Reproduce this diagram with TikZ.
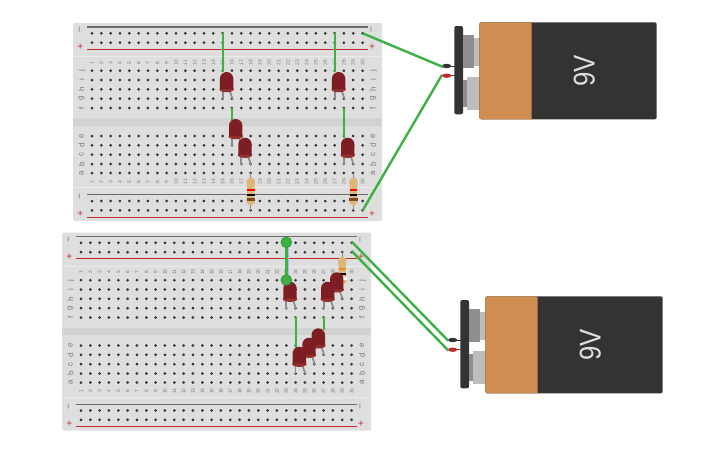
\documentclass[tikz,border=0pt]{standalone}
\usepackage{fontspec}
\setmainfont{Liberation Sans}

\definecolor{bbgray}{HTML}{DEDEDE}
\definecolor{bbstrip}{HTML}{D2D2D2}
\definecolor{bbline}{HTML}{EAEAEA}
\definecolor{hole}{HTML}{333333}
\definecolor{lbl}{HTML}{7A7A7A}
\definecolor{railred}{HTML}{C02A2A}
\definecolor{railblk}{HTML}{6A6A6A}
\definecolor{wiregreen}{HTML}{3FB044}
\definecolor{dotgreen}{HTML}{2F9E38}
\definecolor{ledred}{HTML}{7C1E22}
\definecolor{ledrim}{HTML}{93302F}
\definecolor{leg}{HTML}{8C8C8C}
\definecolor{restan}{HTML}{DDB67C}
\definecolor{batdark}{HTML}{333333}
\definecolor{batorange}{HTML}{D08D52}
\definecolor{batlight}{HTML}{BDBDBD}
\definecolor{batmid}{HTML}{8E8E8E}
\definecolor{battext}{HTML}{DEDEDE}
\definecolor{bandbrown}{HTML}{7A4A1E}
\definecolor{bandorange}{HTML}{F08A1C}

\tikzset{
	wire/.style={draw=wiregreen, line width=2.4pt},
	lbltxt/.style={text=lbl, font=\fontsize{5}{5}\selectfont, inner sep=0pt, rotate=90},
	rowtxt/.style={text=lbl, font=\fontsize{8}{8}\selectfont, inner sep=0pt, rotate=90},
	railtxt/.style={text=lbl, font=\fontsize{10}{10}\selectfont, inner sep=0pt, rotate=90},
	pics/led/.style={code={
		\draw[leg, line width=1.7pt] (-3.8,19) -- (-3.8,27);
		\draw[leg, line width=1.7pt] (3.2,19) -- (6,27);
		\fill[ledrim] (0,17.4) ellipse (7.2pt and 2.8pt);
		\fill[ledred] (-6.7,17) -- (-6.7,6.7) arc[start angle=180, end angle=0, radius=6.7pt] -- (6.7,17) -- cycle;
	}},
	pics/res/.style n args={3}{code={
		\draw[leg, line width=1.5pt] (0,0) -- (0,37);
		\fill[restan, rounded corners=2pt] (-3.4,5) -- (3.4,5) -- (4.6,9) -- (3.6,13) -- (3.6,24) -- (4.6,28) -- (3.4,32) -- (-3.4,32) -- (-4.6,28) -- (-3.6,24) -- (-3.6,13) -- (-4.6,9) -- cycle;
		\fill[#1] (-3.8,15.5) rectangle (3.8,18);
		\fill[#2] (-3.8,20.5) rectangle (3.8,23);
		\fill[#3] (-4.2,25) rectangle (4.2,27.8);
	}},
	pics/board/.style={code={
		\fill[bbgray, rounded corners=1.5pt] (73,23) rectangle (382,221);
		\fill[bbstrip] (73,118) rectangle (382,125.7);
		\draw[bbline, line width=0.6pt] (73,56.7) -- (382,56.7);
		\draw[bbline, line width=0.6pt] (73,187.3) -- (382,187.3);
		\draw[railblk, line width=1.2pt] (87,27) -- (368,27);
		\draw[railred, line width=1pt] (87,49) -- (368,49);
		\draw[railblk, line width=1.2pt] (87,194.7) -- (368,194.7);
		\draw[railred, line width=1pt] (87,217.3) -- (368,217.3);
		\foreach \yy in {33.3,42.7,70.7,80,89.3,98.7,108,136,145.3,154.7,164,173,201,210.3}
			\foreach \cc in {0,...,29}
				\fill[hole] ({92+\cc*9.33},\yy) circle (1.5pt);
		\foreach \cc [evaluate=\cc as \xx using {92+(\cc-1)*9.33}] in {1,...,30} {
			\node[lbltxt] at (\xx,62.7) {\cc};
			\node[lbltxt] at (\xx,181.7) {\cc};
		}
		\foreach \xx in {81.5,373}
			\foreach \yy/\rr in {70.7/j,80/i,89.3/h,98.7/g,108/f,136/e,145.3/d,154.7/c,164/b,173/a}
				\node[rowtxt] at (\xx,\yy) {\rr};
		\foreach \xx in {80.7,372.5} {
			\foreach \yy in {30,197}
				\node[railtxt] at (\xx,\yy) {−};
			\foreach \yy in {47,213.7}
				\node[railtxt, text=railred] at (\xx,\yy) {+};
		}
	}},
	pics/bat/.style={code={
		% connector leads
		\fill[leg] (441.5,66) circle (1.6pt);
		\fill[leg] (441.5,75.7) circle (1.6pt);
		\draw[batdark, line width=1pt] (443,66) -- (456,66);
		\draw[railred, line width=1pt] (443,75.7) -- (456,75.7);
		\fill[batdark] (446.7,66) ellipse (4.5pt and 2.2pt);
		\fill[railred] (446.7,75.7) ellipse (4.5pt and 2.2pt);
		% clip bar and terminals
		\fill[batdark, rounded corners=2pt] (454.3,26) rectangle (463,114.3);
		\fill[batlight] (473.7,37.7) rectangle (480,65.7);
		\fill[batmid] (463,35) rectangle (473.7,67.7);
		\fill[batmid] (463,80) rectangle (467,107.3);
		\fill[batlight] (467,77) rectangle (480,110);
		% body
		\fill[batdark, rounded corners=2pt] (479.3,22.3) rectangle (656.7,119.3);
		\fill[batorange, rounded corners=2pt] (531.7,22.3) [sharp corners] -- (531.7,119.3) [rounded corners=2pt] -- (479.3,119.3) -- (479.3,22.3) -- cycle;
		\node[text=battext, font=\fontsize{30}{30}\selectfont, rotate=90, inner sep=0pt] at (584.3,71) {\scalebox{0.86}[1]{9V}};
	}},
}

\begin{document}
\begin{tikzpicture}[x=1pt, y=-1pt]
	\useasboundingbox (0,0) rectangle (725,453);

	% top circuit
	\pic at (0,0) {board};
	\pic at (0,0) {bat};
	\pic at (250.7,173) {res={red}{black}{bandbrown}};
	\pic at (353.4,173) {res={red}{black}{bandbrown}};

	\coordinate (t1) at (222.7,33.3);
	\coordinate (t2) at (222.7,72);
	\coordinate (t3) at (334.7,33.3);
	\coordinate (t4) at (334.7,72);
	\coordinate (t5) at (232,108);
	\coordinate (t6) at (232,121);
	\coordinate (t7) at (344,108);
	\coordinate (t8) at (344,138);
	\coordinate (t9) at (362.7,33.3);
	\coordinate (t10) at (443,67);
	\coordinate (t11) at (362.7,210.3);
	\coordinate (t12) at (441.5,75.7);
	\draw[wire] (t1) -- (t2);
	\draw[wire] (t3) -- (t4);
	\draw[wire] (t5) -- (t6);
	\draw[wire] (t7) -- (t8);
	\draw[wire] (t9) -- (t10);
	\draw[wire] (t11) -- (t12);

	\pic at (226.6,72) {led};
	\pic at (338.6,72) {led};
	\pic at (235.7,119) {led};
	\pic at (245,137.7) {led};
	\pic at (347.7,137.7) {led};

	% bottom circuit
	\pic at (-11,209.5) {board};
	\pic at (6,274) {bat};
	\pic at (342.3,252) {res={bandorange}{black}{white}};

	\coordinate (b1) at (295.7,316.7);
	\coordinate (b2) at (295.7,348);
	\coordinate (b3) at (323.7,316.7);
	\coordinate (b4) at (323.7,330);
	\coordinate (b5) at (351.7,241.7);
	\coordinate (b6) at (447.5,340);
	\coordinate (b7) at (351.7,251);
	\coordinate (b8) at (447.5,349.7);
	\coordinate (b9) at (286.3,242.3);
	\coordinate (b10) at (286.3,280);
	\draw[wire] (b1) -- (b2);
	\draw[wire] (b3) -- (b4);
	\draw[wire] (b5) -- (b6);
	\draw[wire] (b7) -- (b8);

	\pic at (336.7,272.3) {led};
	\pic at (327.7,281.7) {led};
	\pic at (290,281.7) {led};
	\pic at (318.3,328.3) {led};
	\pic at (309,337.7) {led};
	\pic at (299.3,346.7) {led};

	% jumper with end dots
	\draw[blue!30, line width=0.7pt] (288,246) -- (288,276);
	\draw[wire, line width=2.6pt] (b9) -- (b10);
	\fill[wiregreen, draw=dotgreen, line width=1pt] (b9) circle (5.2pt);
	\fill[wiregreen, draw=dotgreen, line width=1pt] (b10) circle (5.2pt);
\end{tikzpicture}
\end{document}
